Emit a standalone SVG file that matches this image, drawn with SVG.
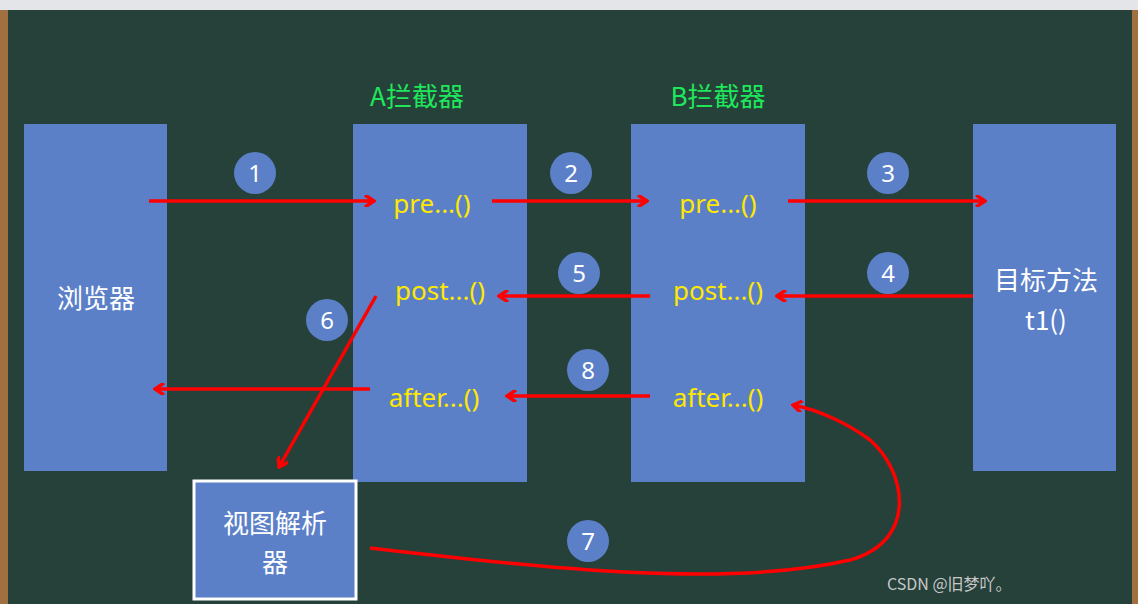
<svg xmlns="http://www.w3.org/2000/svg" width="1138" height="604" viewBox="0 0 1138 604">
<style>
.box{fill:#5b80c8}
.t{font-family:"Noto Sans CJK SC","Noto Sans",sans-serif;font-size:26px;fill:#fff;text-anchor:middle}
.y{font-family:"Noto Sans","Noto Sans CJK SC",sans-serif;font-size:26px;fill:#ffe800;text-anchor:middle}
.g{font-family:"Noto Sans CJK SC",sans-serif;font-size:26px;fill:#1ee85a;text-anchor:middle}
.n{font-family:"Noto Sans",sans-serif;font-size:24px;fill:#fff;text-anchor:middle}
.c{fill:#5b80c8}
.a{stroke:#f00;stroke-width:3.5;fill:none}
</style>
<defs><marker id="ar" markerWidth="12" markerHeight="12" refX="10" refY="6" orient="auto" markerUnits="userSpaceOnUse"><path d="M1,0 L10,6 L1,12" fill="none" stroke="#f00" stroke-width="3.5"/></marker></defs>
<rect width="1138" height="604" fill="#26403a"/>
<rect width="1138" height="10" fill="#e4e5e8"/>
<rect x="0" y="10" width="8" height="594" fill="#a07040"/>
<rect x="1132" y="10" width="6" height="594" fill="#a07040"/>
<text class="g" x="417" y="106">A拦截器</text>
<text class="g" x="718" y="106">B拦截器</text>
<g id="browser"><rect class="box" x="24" y="124" width="143" height="347"/><text class="t" x="96" y="308">浏览器</text></g>
<g id="A"><rect class="box" x="353" y="124" width="174" height="358"/><text class="y" x="432" y="213">pre...()</text><text class="y" x="440" y="300">post...()</text><text class="y" x="434" y="407">after...()</text></g>
<g id="B"><rect class="box" x="631" y="124" width="174" height="358"/><text class="y" x="718" y="213">pre...()</text><text class="y" x="718" y="300">post...()</text><text class="y" x="718" y="407">after...()</text></g>
<g id="target"><rect class="box" x="973" y="124" width="143" height="347"/><text class="t" x="1046" y="290">目标方法</text><text class="t" x="1046" y="330">t1()</text></g>
<g id="view"><rect class="box" x="194" y="481" width="162" height="118" stroke="#fff" stroke-width="3"/><text class="t" x="275" y="533">视图解析</text><text class="t" x="275" y="572">器</text></g>
<g id="connectors">
<line class="a" x1="149" y1="201" x2="374" y2="201" marker-end="url(#ar)"/>
<line class="a" x1="492" y1="201" x2="647" y2="201" marker-end="url(#ar)"/>
<line class="a" x1="788" y1="201" x2="985" y2="201" marker-end="url(#ar)"/>
<line class="a" x1="973" y1="296" x2="777" y2="296" marker-end="url(#ar)"/>
<line class="a" x1="650" y1="296" x2="499" y2="296" marker-end="url(#ar)"/>
<line class="a" x1="650" y1="396" x2="507" y2="396" marker-end="url(#ar)"/>
<line class="a" x1="370" y1="389" x2="155" y2="389" marker-end="url(#ar)"/>
<line class="a" x1="376" y1="296" x2="279" y2="467" marker-end="url(#ar)"/>
<path class="a" d="M370,548 C520,565 720,590 850,560 C920,540 905,470 870,440 C850,425 820,410 793,405" marker-end="url(#ar)"/>
</g>
<g id="nums">
<circle class="c" cx="255" cy="173" r="21"/><text class="n" x="255" y="182">1</text>
<circle class="c" cx="571" cy="173" r="21"/><text class="n" x="571" y="182">2</text>
<circle class="c" cx="888" cy="173" r="21"/><text class="n" x="888" y="182">3</text>
<circle class="c" cx="888" cy="273" r="21"/><text class="n" x="888" y="282">4</text>
<circle class="c" cx="579" cy="273" r="21"/><text class="n" x="579" y="282">5</text>
<circle class="c" cx="327" cy="320" r="21"/><text class="n" x="327" y="329">6</text>
<circle class="c" cx="588" cy="541" r="21"/><text class="n" x="588" y="550">7</text>
<circle class="c" cx="588" cy="370" r="21"/><text class="n" x="588" y="379">8</text>
</g>
<text x="887" y="590" font-family="Noto Sans CJK SC,sans-serif" font-size="16" fill="#c8c8c8">CSDN @旧梦吖。</text>
</svg>
